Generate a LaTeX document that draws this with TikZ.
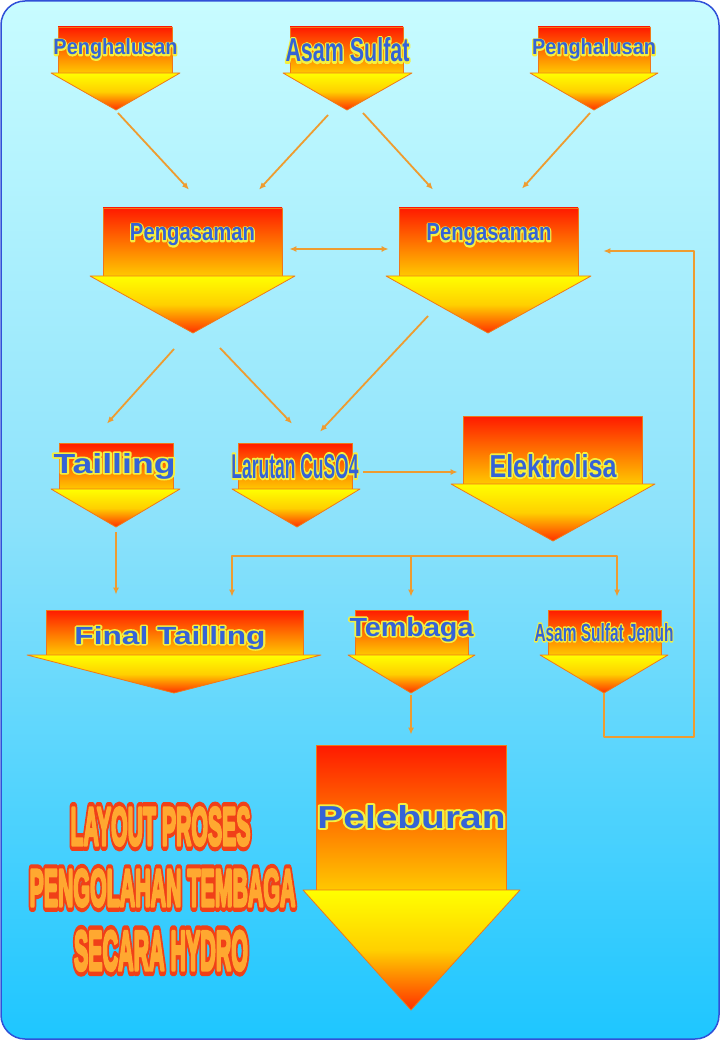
\documentclass[tikz,border=0pt]{standalone}
\usepackage{fontspec}
\setmainfont{Liberation Sans}
\newfontfamily\lblrimfont{Liberation Sans}[BoldFeatures={FakeBold=12}]
\newfontfamily\ttlfont{Liberation Sans}[BoldFeatures={FakeBold=6}]
\newfontfamily\ttlrimfont{Liberation Sans}[BoldFeatures={FakeBold=22}]
\usepackage{graphicx}
\usetikzlibrary{arrows.meta,calc}

\definecolor{bgtop}{HTML}{C8FCFF}
\definecolor{bgmid}{HTML}{8CE2FB}
\definecolor{bgbot}{HTML}{1EC6FF}
\definecolor{bgline}{HTML}{3050D8}
\definecolor{bodytop}{HTML}{FF1A00}
\definecolor{bodybot}{HTML}{FFC800}
\definecolor{headtop}{HTML}{FFFF00}
\definecolor{headmid}{HTML}{FFD000}
\definecolor{headbot}{HTML}{FF3000}
\definecolor{edge}{HTML}{F07818}
\definecolor{flowline}{HTML}{EE9C30}
\definecolor{lblblue}{HTML}{3563D6}
\definecolor{lblrim}{HTML}{F4F040}
\definecolor{ttlfill}{HTML}{FFA830}
\definecolor{ttlrim}{HTML}{F04018}

% label: width, height, text (yellow rim behind blue text)
\newcommand{\blocklabel}[3]{%
  \rlap{\textcolor{lblrim}{\resizebox{#1pt}{#2pt}{\lblrimfont\bfseries #3}}}%
  \textcolor{lblblue}{\resizebox{#1pt}{#2pt}{\bfseries #3}}}
\newcommand{\titleline}[3]{%
  \rlap{\textcolor{ttlrim}{\resizebox{#1pt}{#2pt}{\ttlrimfont\bfseries #3}}}%
  \textcolor{ttlfill}{\resizebox{#1pt}{#2pt}{\ttlfont\bfseries #3}}}

\begin{document}
\begin{tikzpicture}[x=1pt,y=-1pt,line join=round,
    blockbody/.style={draw=edge,line width=0.8pt,top color=bodytop,bottom color=bodybot,inner sep=0pt},
    blockhead/.style={draw=edge,line width=0.8pt,top color=headtop,bottom color=headbot,middle color=headmid},
    flowarrow/.style={flowline,line width=1.8pt,-{Latex[length=7pt,width=6pt]}},
    lbl/.style={anchor=base,inner sep=0pt}]
    \useasboundingbox (0,0) rectangle (720,1040);

    % Background
    \fill[white] (0,0) rectangle (720,1040);
    \shade[top color=bgtop,bottom color=bgbot,middle color=bgmid,draw=bgline,line width=1.5pt,rounded corners=24pt] (1,1) rectangle (719,1039);

    % Row 1: Penghalusan, Asam Sulfat, Penghalusan
    \node[blockbody,minimum width=114,minimum height=46] (halusA) at (115,50) {};
    \coordinate (halusA-tip) at (116,110);
    \shade[blockhead] (51,73) -- (180,73) -- (halusA-tip) -- cycle;

    \node[blockbody,minimum width=113,minimum height=46] (sulfat) at (346.5,50) {};
    \coordinate (sulfat-tip) at (347,110);
    \shade[blockhead] (283,73) -- (412,73) -- (sulfat-tip) -- cycle;

    \node[blockbody,minimum width=112,minimum height=46] (halusB) at (594,50) {};
    \coordinate (halusB-tip) at (594,110);
    \shade[blockhead] (530,73) -- (658,73) -- (halusB-tip) -- cycle;

    % Row 2: Pengasaman x2
    \node[blockbody,minimum width=179,minimum height=68] (pgsA) at (192.5,242) {};
    \coordinate (pgsA-tip) at (193,333);
    \shade[blockhead] (90,276) -- (295,276) -- (pgsA-tip) -- cycle;

    \node[blockbody,minimum width=179,minimum height=68] (pgsB) at (488.5,242) {};
    \coordinate (pgsB-tip) at (488,333);
    \shade[blockhead] (386,276) -- (591,276) -- (pgsB-tip) -- cycle;

    % Row 3: Tailling, Larutan CuSO4, Elektrolisa
    \node[blockbody,minimum width=114,minimum height=46] (tail) at (116,466) {};
    \coordinate (tail-tip) at (116,527);
    \shade[blockhead] (51,489) -- (180,489) -- (tail-tip) -- cycle;

    \node[blockbody,minimum width=114,minimum height=46] (cuso) at (295,466) {};
    \coordinate (cuso-tip) at (297,527);
    \shade[blockhead] (232,489) -- (360,489) -- (cuso-tip) -- cycle;

    \node[blockbody,minimum width=179,minimum height=68] (elek) at (552.5,450) {};
    \coordinate (elek-tip) at (553,541);
    \shade[blockhead] (451,484) -- (655,484) -- (elek-tip) -- cycle;

    % Row 4: Final Tailling, Tembaga, Asam Sulfat Jenuh
    \node[blockbody,minimum width=257,minimum height=45] (final) at (174.5,632.5) {};
    \coordinate (final-tip) at (174,693);
    \shade[blockhead] (27,655) -- (321,655) -- (final-tip) -- cycle;

    \node[blockbody,minimum width=113,minimum height=45] (tmb) at (411.5,632.5) {};
    \coordinate (tmb-tip) at (411,693);
    \shade[blockhead] (348,655) -- (475,655) -- (tmb-tip) -- cycle;

    \node[blockbody,minimum width=113,minimum height=45] (jenuh) at (604.5,632.5) {};
    \coordinate (jenuh-tip) at (604,693);
    \shade[blockhead] (540,655) -- (668,655) -- (jenuh-tip) -- cycle;

    % Peleburan
    \node[blockbody,minimum width=190,minimum height=145] (lebur) at (411,817.5) {};
    \coordinate (lebur-tip) at (411,1010);
    \shade[blockhead] (303,890) -- (520,890) -- (lebur-tip) -- cycle;

    % Connections
    \draw[flowarrow] ([shift={(2,3)}]halusA-tip) -- ([shift={(-3.5,-18)}]pgsA.north);
    \draw[flowarrow] ([shift={(-19,5)}]sulfat-tip) -- ([shift={(66.5,-18)}]pgsA.north);
    \draw[flowarrow] ([shift={(16,3)}]sulfat-tip) -- ([shift={(-55.5,-18)}]pgsB.north);
    \draw[flowarrow] ([shift={(-4,3)}]halusB-tip) -- ([shift={(33.5,-19)}]pgsB.north);
    \draw[flowarrow,{Latex[length=7pt,width=6pt]}-{Latex[length=7pt,width=6pt]}] ([shift={(7,7)}]pgsA.east) -- ([shift={(-10,7)}]pgsB.west);
    \draw[flowarrow] ([shift={(-19,16)}]pgsA-tip) -- ([shift={(-9,-19)}]tail.north);
    \draw[flowarrow] ([shift={(27,15)}]pgsA-tip) -- ([shift={(-3,-19)}]cuso.north);
    \draw[flowarrow] ([shift={(-60,-17)}]pgsB-tip) -- ([shift={(25,-11)}]cuso.north);
    \draw[flowarrow] ([shift={(11,6)}]cuso.east) -- ([shift={(-5,22)}]elek.west);
    \draw[flowarrow] ([shift={(0,5)}]tail-tip) -- ([shift={(-58.5,-15)}]final.north);

    % Elektrolisa split
    \coordinate (split) at (553,556);
    \draw[flowarrow] (split) -| ([shift={(57.5,-13)}]final.north);
    \draw[flowarrow] (split) -| ([shift={(-0.5,-13)}]tmb.north);
    \draw[flowarrow] (split) -| ([shift={(12.5,-13)}]jenuh.north);
    \draw[flowarrow] ([shift={(0,2)}]tmb-tip) -- ([shift={(0,-10)}]lebur.north);

    % Return of Asam Sulfat Jenuh
    \coordinate (ret) at (694,737);
    \draw[flowarrow] (jenuh-tip) |- (ret) |- ([shift={(25,9)}]pgsB.east);

    % Labels
    \node[lbl] (halusA-t) at (115.5,55) {\blocklabel{124}{16}{Penghalusan}};
    \node[lbl] (sulfat-t) at (347.5,62) {\blocklabel{124}{24}{Asam Sulfat}};
    \node[lbl] (halusB-t) at (594,55) {\blocklabel{124}{16}{Penghalusan}};
    \node[lbl] (pgsA-t) at (192.5,241) {\blocklabel{125}{17}{Pengasaman}};
    \node[lbl] (pgsB-t) at (489,241) {\blocklabel{125}{17}{Pengasaman}};
    \node[lbl] (tail-t) at (114.5,473) {\blocklabel{122}{20}{Tailling}};
    \node[lbl] (cuso-t) at (295,478) {\blocklabel{127}{24}{Larutan CuSO4}};
    \node[lbl] (elek-t) at (553,477) {\blocklabel{127}{23}{Elektrolisa}};
    \node[lbl] (final-t) at (170,644) {\blocklabel{191}{18}{Final Tailling}};
    \node[lbl] (tmb-t) at (411.5,636) {\blocklabel{124}{19}{Tembaga}};
    \node[lbl] (jenuh-t) at (604,641) {\blocklabel{139}{18}{Asam Sulfat Jenuh}};
    \node[lbl] (lebur-t) at (411.5,828) {\blocklabel{188}{23}{Peleburan}};

    % Title
    \node[lbl] (title1) at (160.5,845) {\titleline{180}{37.5}{LAYOUT PROSES}};
    \node[lbl] (title2) at (162.5,906) {\titleline{266}{36.5}{PENGOLAHAN TEMBAGA}};
    \node[lbl] (title3) at (161,970) {\titleline{174}{39}{SECARA HYDRO}};
\end{tikzpicture}
\end{document}
